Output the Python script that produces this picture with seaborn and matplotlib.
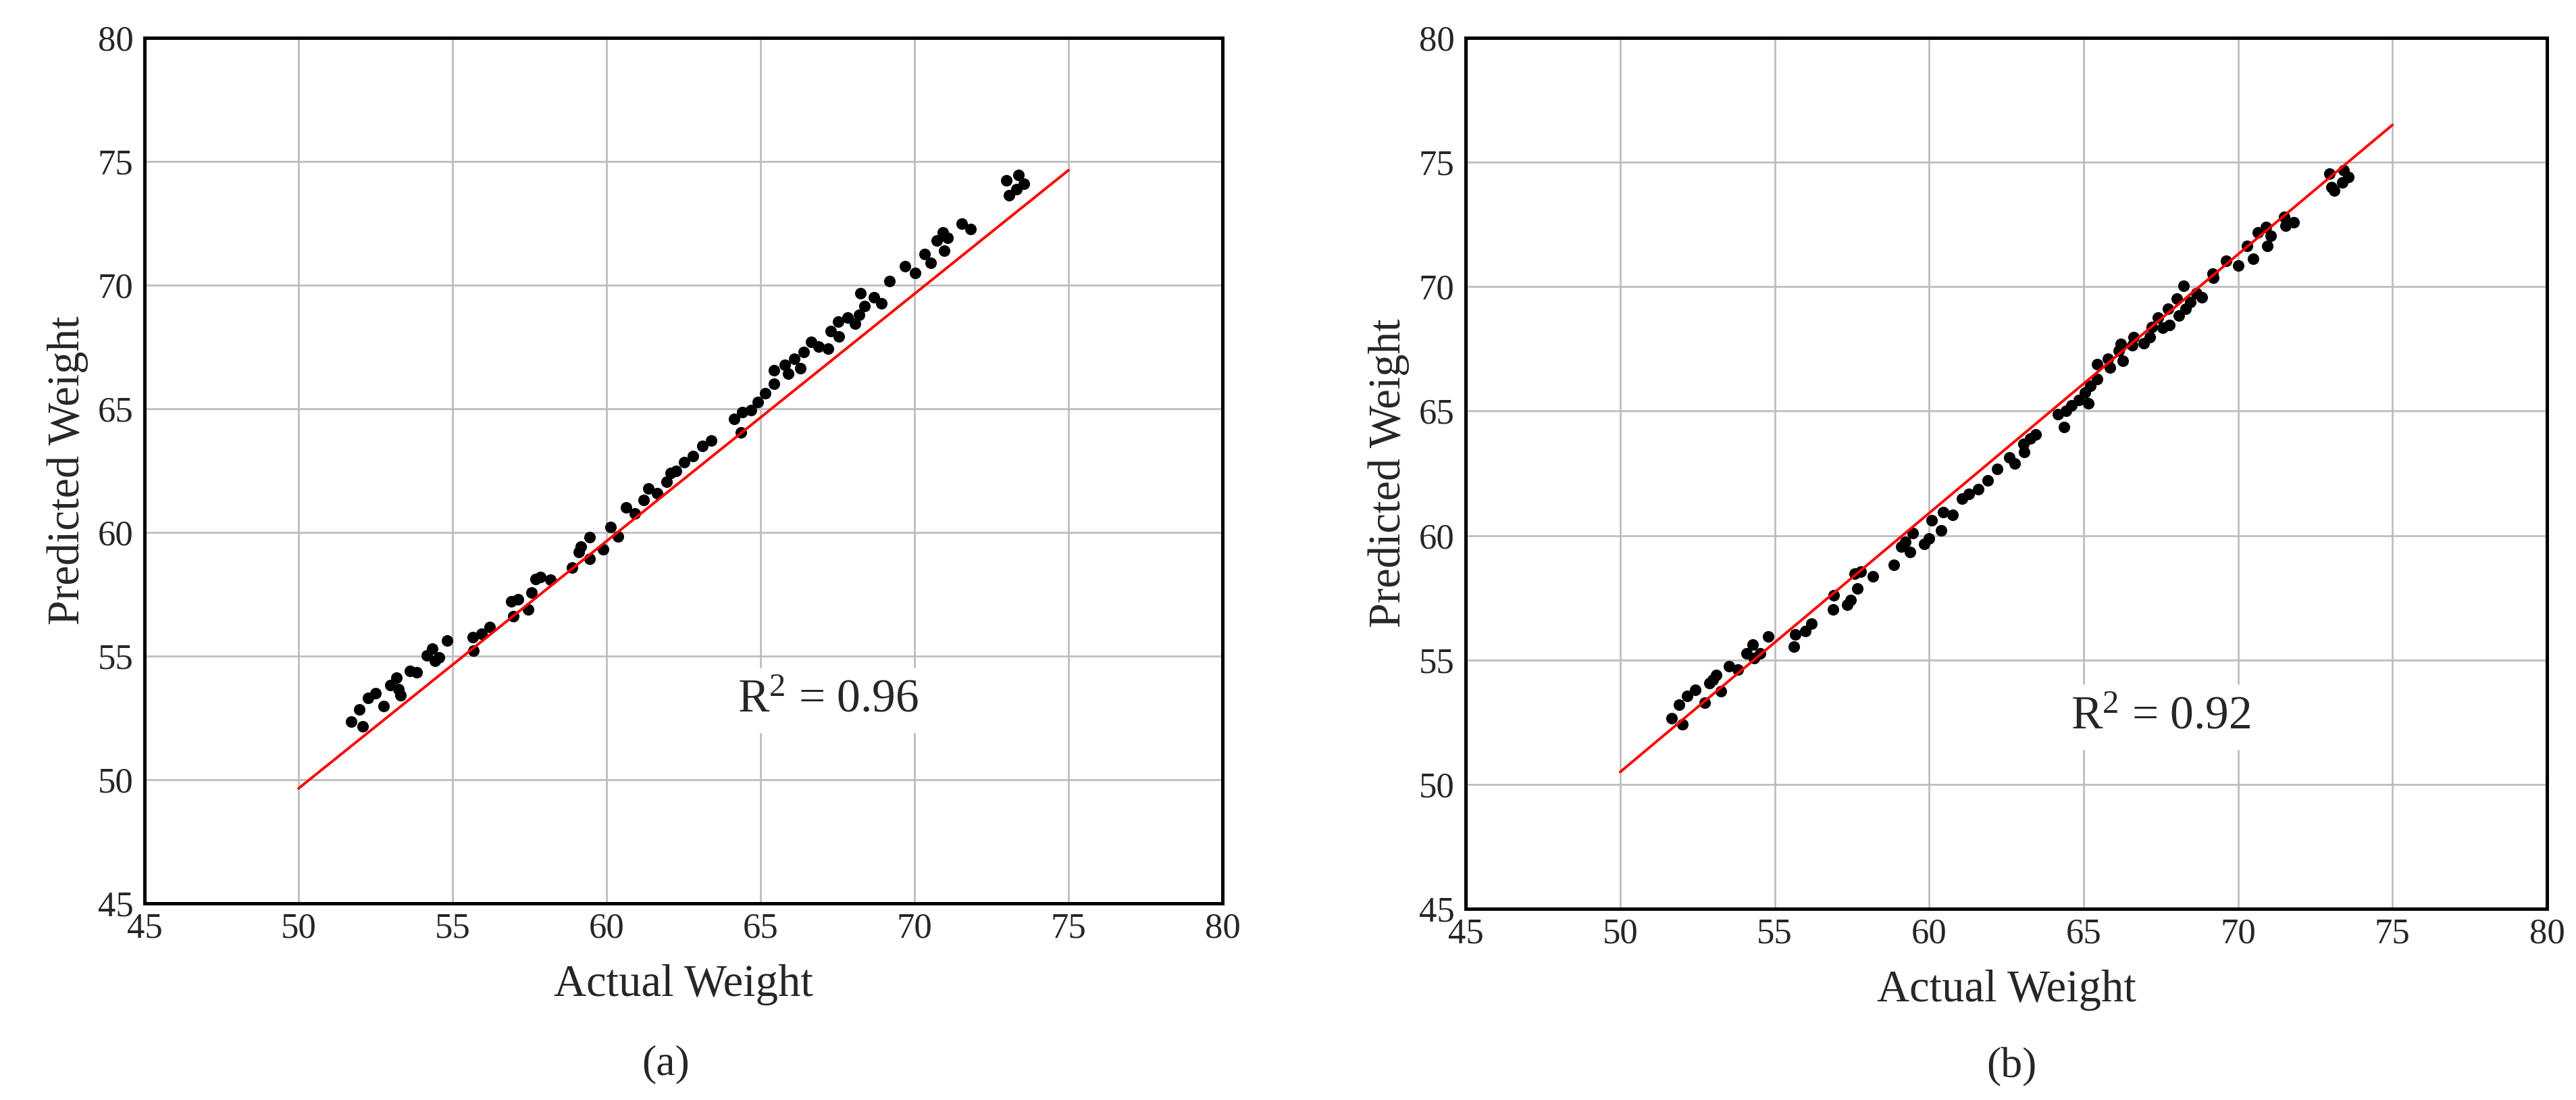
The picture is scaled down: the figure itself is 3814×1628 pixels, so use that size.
import matplotlib
matplotlib.use("Agg")
import matplotlib.pyplot as plt
from matplotlib.ticker import MultipleLocator
import seaborn as sns

# --- DATA ---
# panel (a)
ACTUAL_A = [51.71, 52.08, 51.97, 52.26, 52.51, 52.77, 52.99, 53.17, 53.32, 53.25,
            53.61, 53.83, 54.16, 54.34, 54.42, 54.56, 54.82, 55.66, 55.69, 55.95,
            56.21, 56.90, 57.12, 56.97, 57.45, 57.56, 57.70, 57.85, 58.18, 58.87,
            59.09, 59.17, 59.46, 59.46, 59.90, 60.12, 60.37, 60.63, 60.92, 61.36,
            61.21, 61.65, 62.09, 61.94,
            62.26, 62.53, 62.81, 63.12, 63.39, 64.14, 64.37, 64.41, 64.69, 64.92,
            65.16, 65.43, 65.43, 65.78, 65.90, 66.10, 66.29, 66.41, 66.65, 66.88,
            67.19, 67.27, 67.55, 67.51, 67.82, 68.06, 68.21, 68.25, 68.37, 68.68,
            68.92, 69.19, 69.70, 70.02, 70.33, 70.53, 70.72, 70.92, 70.96, 71.07,
            71.54, 71.82, 72.99, 73.38, 73.54, 73.07, 73.31]
PREDICTED_A = [52.34, 52.16, 52.84, 53.30, 53.50, 52.98, 53.84, 54.12, 53.43, 53.66,
               54.39, 54.34, 55.03, 55.30, 54.80, 54.94, 55.62, 55.76, 55.21, 55.89,
               56.17, 57.21, 57.30, 56.62, 56.89, 57.58, 58.12, 58.21, 58.08, 58.58,
               59.22, 59.44, 58.94, 59.81, 59.31, 60.22, 59.85, 61.00, 60.77, 61.77,
               61.31, 61.58, 62.40, 62.04,
               62.49, 62.85, 63.08, 63.49, 63.72, 64.59, 64.04, 64.86, 64.95, 65.27,
               65.64, 66.01, 66.55, 66.78, 66.42, 67.01, 66.65, 67.29, 67.70, 67.51,
               67.42, 68.15, 67.93, 68.52, 68.70, 68.43, 68.79, 69.66, 69.16, 69.52,
               69.25, 70.16, 70.76, 70.48, 71.26, 70.90, 71.81, 72.13, 71.40, 71.90,
               72.50, 72.27, 74.23, 74.46, 74.10, 73.64, 73.87]
FIT_A_X = [50, 75]
FIT_A_Y = [49.65, 74.65]
R2_A = r"R$^\mathregular{2}$ = 0.96"

# panel (b)
ACTUAL_B = [51.67, 52.01, 51.90, 52.16, 52.43, 52.73, 52.88, 53.11, 53.26, 53.00,
            53.53, 53.80, 54.10, 54.29, 54.33, 54.52, 54.79, 55.62, 55.66, 56.00,
            56.19, 56.88, 56.92, 57.34, 57.45, 57.68, 57.60, 57.79, 58.17, 58.86,
            59.09, 59.39, 59.24, 59.47, 59.85, 60.00, 60.08, 60.38, 60.46, 60.76,
            61.07, 61.29, 61.60, 61.90, 62.21, 62.59,
            62.78, 63.08, 63.05, 63.27, 63.46, 64.17, 64.36, 64.44, 64.62, 64.85,
            65.15, 65.04, 65.23, 65.45, 65.45, 65.79, 65.86, 66.13, 66.28, 66.20,
            66.62, 66.58, 66.95, 67.14, 67.22, 67.41, 67.56, 67.74, 67.78, 68.01,
            68.08, 68.23, 68.31, 68.46, 68.65, 68.83, 69.17, 69.21, 69.62, 70.00,
            70.30, 70.49, 70.64, 70.90, 70.94, 71.05, 71.50, 71.54, 71.80, 72.97,
            73.42, 73.57, 73.02, 73.12, 73.38]
PREDICTED_B = [52.65, 52.42, 53.20, 53.56, 53.79, 53.29, 54.07, 54.39, 53.75, 54.20,
               54.75, 54.62, 55.26, 55.62, 55.07, 55.26, 55.94, 55.53, 56.03, 56.17,
               56.45, 57.04, 57.59, 57.23, 57.41, 57.87, 58.46, 58.55, 58.37, 58.83,
               59.56, 59.33, 59.74, 60.11, 59.65, 59.88, 60.61, 60.20, 60.93, 60.84,
               61.48, 61.67, 61.85, 62.22, 62.67, 63.13,
               62.90, 63.36, 63.68, 63.91, 64.05, 64.87, 64.37, 65.00, 65.23, 65.46,
               65.32, 65.74, 66.01, 66.28, 66.88, 67.10, 66.74, 67.42, 67.01, 67.70,
               67.97, 67.65, 67.74, 67.97, 68.38, 68.75, 68.34, 69.11, 68.47, 69.53,
               68.84, 70.03, 69.11, 69.39, 69.75, 69.57, 70.53, 70.35, 71.03, 70.85,
               71.63, 71.12, 72.17, 72.40, 71.63, 72.04, 72.81, 72.45, 72.58, 74.55,
               74.68, 74.41, 74.00, 73.86, 74.18]
FIT_B_X = [50, 75]
FIT_B_Y = [50.5, 76.5]
R2_B = r"R$^\mathregular{2}$ = 0.92"

AXIS_LIMITS = (45, 80)
X_LABEL = "Actual Weight"
Y_LABEL = "Predicted Weight"
CAPTIONS = ["(a)", "(b)"]


def style_panel(ax):
    ax.set_xlim(*AXIS_LIMITS)
    ax.set_ylim(*AXIS_LIMITS)
    ax.xaxis.set_major_locator(MultipleLocator(5))
    ax.yaxis.set_major_locator(MultipleLocator(5))
    ax.xaxis.set_minor_locator(MultipleLocator(2.5))
    ax.yaxis.set_minor_locator(MultipleLocator(2.5))
    ax.tick_params(which="major", direction="in", length=5.5, width=1.2,
                   labelsize=19, top=False, right=False)
    ax.tick_params(which="minor", direction="in", length=3, width=1.0,
                   top=False, right=False)
    ax.tick_params(axis="x", pad=5)
    ax.tick_params(axis="y", pad=6)
    ax.grid(True, which="major", color="#bdbdbd", linewidth=1.0)
    ax.set_axisbelow(True)
    for spine in ax.spines.values():
        spine.set_linewidth(1.8)
        spine.set_color("black")
    ax.set_xlabel(X_LABEL, fontsize=24, labelpad=10)
    ax.set_ylabel(Y_LABEL, fontsize=24, labelpad=5)


def draw_panel(ax, actual, predicted, fit_x, fit_y, r2_text, r2_pos):
    sns.scatterplot(x=actual, y=predicted, ax=ax, color="black", s=38,
                    linewidth=0, zorder=3)
    sns.lineplot(x=fit_x, y=fit_y, ax=ax, color="red", linewidth=1.4,
                 sort=False, zorder=4)
    ax.text(r2_pos[0], r2_pos[1], r2_text, ha="center", va="center",
            fontsize=25, zorder=5,
            bbox=dict(facecolor="white", edgecolor="none", pad=6))
    style_panel(ax)


sns.set_theme(style="white")
plt.rcParams["font.family"] = ["Liberation Serif", "DejaVu Serif"]
plt.rcParams["mathtext.fontset"] = "custom"
plt.rcParams["mathtext.rm"] = "Liberation Serif"
plt.rcParams["mathtext.it"] = "Liberation Serif:italic"
plt.rcParams["axes.edgecolor"] = "black"

fig = plt.figure(figsize=(19.07, 8.14), dpi=200)
ax_a = fig.add_axes([0.0561, 0.1787, 0.4185, 0.7869])
ax_b = fig.add_axes([0.5690, 0.1738, 0.4197, 0.7918])

draw_panel(ax_a, ACTUAL_A, PREDICTED_A, FIT_A_X, FIT_A_Y, R2_A, (67.2, 53.2))
draw_panel(ax_b, ACTUAL_B, PREDICTED_B, FIT_B_X, FIT_B_Y, R2_B, (67.5, 52.7))

fig.text(0.2583, 0.032, CAPTIONS[0], ha="center", va="center", fontsize=23)
fig.text(0.7808, 0.030, CAPTIONS[1], ha="center", va="center", fontsize=23)

fig.savefig("out.png", dpi=200, facecolor="white")
